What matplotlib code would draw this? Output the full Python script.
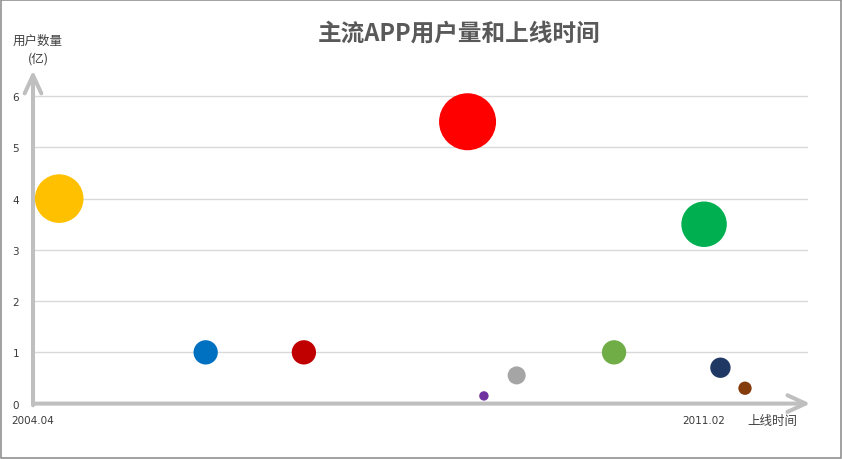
import matplotlib
matplotlib.use("Agg")
import matplotlib.pyplot as plt
from matplotlib.patches import Rectangle
import numpy as np

plt.rcParams['font.family'] = ['Noto Sans CJK SC', 'DejaVu Sans']

# Data: months since 2004.04, users (亿), bubble size = users
months = [3.2, 21.1, 33.1, 53.1, 55.1, 59.1, 71.0, 82.0, 84.0, 87.0]
users = [4.0, 1.0, 1.0, 5.5, 0.15, 0.55, 1.0, 3.5, 0.7, 0.3]
colors = ['#FFC000', '#0070C0', '#C00000', '#FF0000', '#7030A0',
          '#A5A5A5', '#70AD47', '#00B050', '#203864', '#843C0C']
x_tick_pos = [0, 82]
x_tick_labels = ['2004.04', '2011.02']
y_ticks = [0, 1, 2, 3, 4, 5, 6]

W, H = 842, 460
fig = plt.figure(figsize=(W / 100, H / 100), dpi=100)
fig.patch.set_facecolor('white')
fig.patches.append(Rectangle((0.8 / W, 0.8 / H), 1 - 1.6 / W, 1 - 1.6 / H,
                             transform=fig.transFigure, fill=False,
                             edgecolor='#888888', lw=1.1, zorder=10))

left, right, bottom, top = 33, 808, 404.6, 71.5
ax = fig.add_axes([left / W, 1 - bottom / H, (right - left) / W, (bottom - top) / H])
ax.set_xlim(0, 94.7)
ax.set_ylim(0, 6.5)

for sp in ax.spines.values():
    sp.set_visible(False)

ax.set_yticks(y_ticks)
ax.set_yticklabels([str(v) for v in y_ticks])
ax.set_xticks(x_tick_pos)
ax.set_xticklabels(x_tick_labels)
ax.tick_params(axis='both', length=0, labelsize=7.5, labelcolor='#3A3A3A')
ax.tick_params(axis='y', pad=10)
ax.tick_params(axis='x', pad=8.5)
for lab in ax.get_xticklabels() + ax.get_yticklabels():
    lab.set_family('DejaVu Sans')

for v in y_ticks[1:]:
    ax.axhline(v, color='#D9D9D9', lw=1.0, zorder=0)

sizes = [306.2 * u for u in users]
ax.scatter(months, users, s=sizes, c=colors, edgecolors='none', zorder=3, clip_on=False)

# axis arrows
arrow_kw = dict(arrowstyle='->,head_length=1.3,head_width=0.6', color='#BFBFBF',
                lw=2.9, mutation_scale=10, shrinkA=0, shrinkB=0)
ax.annotate('', xy=(1.003, 0), xytext=(0, 0), xycoords='axes fraction',
            arrowprops=arrow_kw, annotation_clip=False, zorder=2)
ax.annotate('', xy=(0, 1.0), xytext=(0, -0.005), xycoords='axes fraction',
            arrowprops=arrow_kw, annotation_clip=False, zorder=2)

fig.text(459 / W, 1 - 34 / H, '主流APP用户量和上线时间', ha='center', va='center',
         fontsize=17, fontweight='bold', color='#595959')
fig.text(38 / W, 1 - 41 / H, '用户数量', ha='center', va='center', fontsize=9, color='#404040')
fig.text(38 / W, 1 - 59 / H, '(亿)', ha='center', va='center', fontsize=9, color='#404040')
fig.text(772 / W, 1 - 422 / H, '上线时间', ha='center', va='center', fontsize=9, color='#404040')

fig.savefig('out.png', dpi=100, facecolor='white')
